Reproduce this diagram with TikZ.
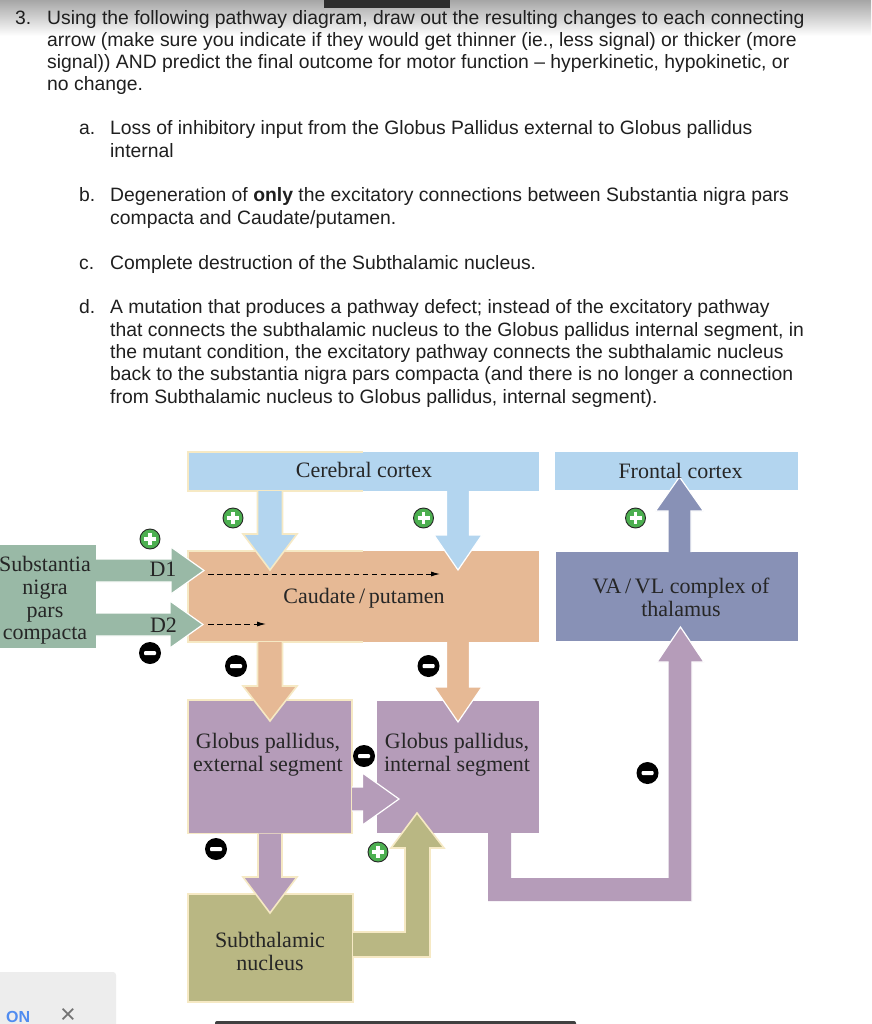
\documentclass[tikz,border=0pt]{standalone}
\usepackage{fontspec}
\setmainfont{Liberation Sans}
\newfontfamily\dgfont{Liberation Serif}
\usetikzlibrary{calc,arrows.meta}
\definecolor{cblue}{HTML}{B3D5EF}
\definecolor{corange}{HTML}{E6B995}
\definecolor{cpurple}{HTML}{B59CB9}
\definecolor{cgreen}{HTML}{99B9A6}
\definecolor{cnavy}{HTML}{8891B6}
\definecolor{colive}{HTML}{B9B783}
\definecolor{ccream}{HTML}{F6E9C4}
\definecolor{cplus}{HTML}{4CAF50}
\tikzset{
  x=1pt,y=-1pt,
  qtext/.style={anchor=base west,inner sep=0pt,text=black!88,font=\fontsize{19.35}{22}\selectfont},
  dgbox/.style={inner sep=0pt,outer sep=0pt,draw=none},
  dglabel/.style={inner sep=0pt,align=center,text=black!85,font=\dgfont\fontsize{22}{22.6}\selectfont},
  creamline/.style={draw=ccream,line width=1.6pt,line join=miter},
  whiteline/.style={draw=white,line width=1.2pt,line join=miter},
  plussign/.style={circle,draw=black!85,line width=0.9pt,fill=cplus,minimum size=20pt,inner sep=0pt,
    path picture={\fill[white] ([xshift=-6pt,yshift=-1.8pt]path picture bounding box.center) rectangle ([xshift=6pt,yshift=1.8pt]path picture bounding box.center);
      \fill[white] ([xshift=-1.8pt,yshift=-6pt]path picture bounding box.center) rectangle ([xshift=1.8pt,yshift=6pt]path picture bounding box.center);}},
  minussign/.style={circle,fill=black,minimum size=22pt,inner sep=0pt,
    path picture={\fill[white,rounded corners=1pt] ([xshift=-6pt,yshift=-2pt]path picture bounding box.center) rectangle ([xshift=6pt,yshift=2pt]path picture bounding box.center);}},
  dashconn/.style={draw=black,line width=1pt,dash pattern=on 5.5pt off 3.6pt,-{Latex[length=9pt,width=5pt]}}
}
% vertical block arrow: fill, edge style, x, half shaft, half head, from, head y, tip name, tip y
\newcommand{\vblockarrow}[9]{%
  \coordinate (#8) at (#3,#9);
  \coordinate (#8base) at (#3,0 |- #6);
  \fill[#1] ($(#8base)+(-#4,0)$) -- (#3-#4,#7) -- (#3-#5,#7) -- (#8) -- (#3+#5,#7) -- (#3+#4,#7) -- ($(#8base)+(#4,0)$) -- cycle;
  \draw[#2] ($(#8base)+(-#4,0)$) -- (#3-#4,#7) -- (#3-#5,#7) -- (#8) -- (#3+#5,#7) -- (#3+#4,#7) -- ($(#8base)+(#4,0)$);
}
% horizontal block arrow: fill, edge, y, half shaft, half head, from, head x, tip name, tip x
\newcommand{\hblockarrow}[9]{%
  \coordinate (#8) at (#9,#3);
  \coordinate (#8base) at (#6 |- 0,#3);
  \fill[#1] ($(#8base)+(0,-#4)$) -- (#7,#3-#4) -- (#7,#3-#5) -- (#8) -- (#7,#3+#5) -- (#7,#3+#4) -- ($(#8base)+(0,#4)$) -- cycle;
  \draw[#2] ($(#8base)+(0,-#4)$) -- (#7,#3-#4) -- (#7,#3-#5) -- (#8) -- (#7,#3+#5) -- (#7,#3+#4) -- ($(#8base)+(0,#4)$);
}
\newcommand{\qline}[4]{\node[qtext] (#1) at (#2,#3) {#4};}
\begin{document}
\begin{tikzpicture}
\useasboundingbox (0,0) rectangle (871,1024);
\clip (0,0) rectangle (871,1024);
\fill[white] (0,0) rectangle (871,1024);
% screen artefacts
\shade[top color=black!35,bottom color=white] (0,0) rectangle (871,36);
\fill[black!82] (324,0) rectangle (450,8);
\fill[black!7,rounded corners=3pt] (-6,972) rectangle (116,1030);
\node[inner sep=0pt,text={rgb,255:red,80;green,140;blue,240},font=\bfseries\fontsize{16}{18}\selectfont,anchor=base west] (onlabel) at (6,1022.5) {ON};
\node[inner sep=0pt,text=black!55,font=\fontsize{27}{27}\selectfont,anchor=center] (closex) at (68,1016) {×};
\fill[black!75,rounded corners=2pt] (215,1021) rectangle (576,1030);
% question text
\qline{q3}{15}{24.5}{3.}
\qline{q1}{47}{24.5}{Using the following pathway diagram, draw out the resulting changes to each connecting}
\qline{q2}{47}{46.5}{arrow (make sure you indicate if they would get thinner (ie., less signal) or thicker (more}
\qline{q4}{47}{69}{signal)) AND predict the final outcome for motor function – hyperkinetic, hypokinetic, or}
\qline{q5}{47}{91}{no change.}
\qline{qa}{79}{135}{a.}
\qline{qa1}{110}{135}{Loss of inhibitory input from the Globus Pallidus external to Globus pallidus}
\qline{qa2}{110}{157.5}{internal}
\qline{qb}{79}{202}{b.}
\qline{qb1}{110}{202}{Degeneration of \textbf{only} the excitatory connections between Substantia nigra pars}
\qline{qb2}{110}{224.5}{compacta and Caudate/putamen.}
\qline{qc}{79}{269}{c.}
\qline{qc1}{110}{269}{Complete destruction of the Subthalamic nucleus.}
\qline{qd}{79}{313}{d.}
\qline{qd1}{110}{313}{A mutation that produces a pathway defect; instead of the excitatory pathway}
\qline{qd2}{110}{336}{that connects the subthalamic nucleus to the Globus pallidus internal segment, in}
\qline{qd3}{110}{358}{the mutant condition, the excitatory pathway connects the subthalamic nucleus}
\qline{qd4}{110}{380.5}{back to the substantia nigra pars compacta (and there is no longer a connection}
\qline{qd5}{110}{403}{from Subthalamic nucleus to Globus pallidus, internal segment).}
% boxes
\node[dgbox,fill=cblue,minimum width=351pt,minimum height=39pt] (cortex) at (363.5,471.5) {};
\node[dgbox,fill=cblue,minimum width=243pt,minimum height=38pt] (frontal) at (676.5,471) {};
\node[dgbox,fill=corange,minimum width=351pt,minimum height=91pt] (caudate) at (363.5,596.5) {};
\node[dgbox,fill=cnavy,minimum width=242pt,minimum height=89pt] (thal) at (677,596.5) {};
\node[dgbox,fill=cgreen,minimum width=106pt,minimum height=103pt] (snc) at (43,596.5) {};
\node[dgbox,fill=cpurple,minimum width=164pt,minimum height=133pt] (gpe) at (270,767) {};
\node[dgbox,fill=cpurple,minimum width=162pt,minimum height=132pt] (gpi) at (458,767) {};
\node[dgbox,fill=colive,minimum width=165pt,minimum height=108pt] (stn) at (270.5,948) {};
% cream outlines of the left-hand column
\draw[creamline] (363,452) -- (188,452) -- (188,491) -- (363,491);
\draw[creamline] (363,551) -- (188,551) -- (188,642) -- (363,642);
\draw[creamline] (188,700) rectangle (352,833.5);
\draw[creamline] (188,894) rectangle (353,1002);
% block arrows
\vblockarrow{cblue}{creamline}{270}{12.5}{27}{cortex.south}{534}{tipcc}{570}
\vblockarrow{cblue}{whiteline}{458}{11.5}{24}{cortex.south}{535}{tipcr}{570}
\vblockarrow{corange}{creamline}{270}{12.5}{27}{caudate.south}{686}{tipge}{721}
\vblockarrow{corange}{whiteline}{458}{11.5}{24}{caudate.south}{687}{tipgi}{722}
\vblockarrow{cpurple}{creamline}{270}{12}{27}{gpe.south}{877}{tipst}{913}
\vblockarrow{cnavy}{whiteline}{679.5}{11.5}{24}{thal.north}{511}{tipfr}{477}
\hblockarrow{cgreen}{whiteline}{570.5}{11.5}{23.5}{snc.east}{171}{tipdone}{204}
\hblockarrow{cgreen}{whiteline}{624.5}{11.5}{23.5}{snc.east}{170}{tipdtwo}{203}
\hblockarrow{cpurple}{whiteline}{799}{12}{26}{gpe.east}{362.5}{tippal}{399}
% subthalamic nucleus to GPi
\coordinate (tipsg) at (417,813);
\fill[colive] (stn.east |- 0,932) -- (405,932) -- (405,848) -- (391,848) -- (tipsg) -- (444,848) -- (430,848) -- (430,957) -- (stn.east |- 0,957) -- cycle;
\draw[creamline] (stn.east |- 0,932) -- (405,932) -- (405,848) -- (391,848) -- (tipsg) -- (444,848) -- (430,848) -- (430,957) -- (stn.east |- 0,957);
% GPi to thalamus
\coordinate (tipth) at (680.5,627);
\fill[cpurple] (488,0 |- gpi.south) -- (488,901) -- (692,901) -- (692,662) -- (704,662) -- (tipth) -- (657,662) -- (668.5,662) -- (668.5,878) -- (511,878) -- (511,0 |- gpi.south) -- cycle;
\draw[whiteline] (692,901) -- (692,662) -- (704,662) -- (tipth) -- (657,662) -- (668.5,662);
% dashed signals
\coordinate (dashastart) at (208,574);
\coordinate (dashaend) at (440,574);
\coordinate (dashbstart) at (208,624);
\coordinate (dashbend) at (266,624);
\draw[dashconn] (dashastart) -- (dashaend);
\draw[dashconn] (dashbstart) -- (dashbend);
% labels
\node[dglabel] (cortexlabel) at (364,470) {Cerebral cortex};
\node[dglabel] (frontallabel) at (680.5,471) {Frontal cortex};
\node[dglabel] (caudatelabel) at (364,598) {Caudate\,/\,putamen};
\node[dglabel] (thallabel) at (681,597.5) {VA\,/\,VL complex of\\thalamus};
\node[dglabel] (snclabel) at (45,600.5) {Substantia\\nigra\\pars\\compacta};
\node[dglabel] (dlabel) at (163,569) {D1};
\node[dglabel] (dtwolabel) at (163.5,625) {D2};
\node[dglabel] (gpelabel) at (268,755) {Globus pallidus,\\external segment};
\node[dglabel] (gpilabel) at (457,755) {Globus pallidus,\\internal segment};
\node[dglabel] (stnlabel) at (270,951.5) {Subthalamic\\nucleus};
% signs
\node[plussign] (pa) at (233,518) {};
\node[plussign] (pb) at (423.5,518) {};
\node[plussign] (pc) at (150,539) {};
\node[plussign] (pd) at (635.5,518) {};
\node[plussign] (pe) at (378,852) {};
\node[minussign] (ma) at (150,653) {};
\node[minussign] (mb) at (236,666) {};
\node[minussign] (mc) at (428.5,666) {};
\node[minussign] (md) at (216,849) {};
\node[minussign] (me) at (364,756) {};
\node[minussign] (mf) at (647.5,773) {};
\end{tikzpicture}
\end{document}
